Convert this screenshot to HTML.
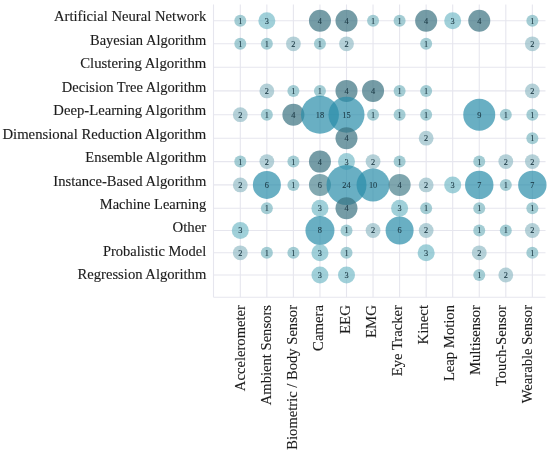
<!DOCTYPE html><html><head><meta charset="utf-8"><title>chart</title><style>html,body{margin:0;padding:0;background:#fff}svg{display:block}text{font-family:"Liberation Serif",serif}</style></head><body>
<svg width="550" height="451" viewBox="0 0 550 451">
<rect width="550" height="451" fill="#fff"/>
<g stroke="#e6e6ee" stroke-width="1.1" fill="none">
<line x1="213.5" y1="20.7" x2="545.5" y2="20.7"/>
<line x1="213.5" y1="43.8" x2="545.5" y2="43.8"/>
<line x1="213.5" y1="67.2" x2="545.5" y2="67.2"/>
<line x1="213.5" y1="90.9" x2="545.5" y2="90.9"/>
<line x1="213.5" y1="114.7" x2="545.5" y2="114.7"/>
<line x1="213.5" y1="138.2" x2="545.5" y2="138.2"/>
<line x1="213.5" y1="161.6" x2="545.5" y2="161.6"/>
<line x1="213.5" y1="184.9" x2="545.5" y2="184.9"/>
<line x1="213.5" y1="208.3" x2="545.5" y2="208.3"/>
<line x1="213.5" y1="230.5" x2="545.5" y2="230.5"/>
<line x1="213.5" y1="252.8" x2="545.5" y2="252.8"/>
<line x1="213.5" y1="275.0" x2="545.5" y2="275.0"/>
<line x1="213.5" y1="297.3" x2="545.5" y2="297.3"/>
<line x1="213.50" y1="4.4" x2="213.50" y2="297.3"/>
<line x1="240.30" y1="4.4" x2="240.30" y2="297.3"/>
<line x1="266.85" y1="4.4" x2="266.85" y2="297.3"/>
<line x1="293.40" y1="4.4" x2="293.40" y2="297.3"/>
<line x1="319.95" y1="4.4" x2="319.95" y2="297.3"/>
<line x1="346.50" y1="4.4" x2="346.50" y2="297.3"/>
<line x1="373.05" y1="4.4" x2="373.05" y2="297.3"/>
<line x1="399.60" y1="4.4" x2="399.60" y2="297.3"/>
<line x1="426.15" y1="4.4" x2="426.15" y2="297.3"/>
<line x1="452.70" y1="4.4" x2="452.70" y2="297.3"/>
<line x1="479.25" y1="4.4" x2="479.25" y2="297.3"/>
<line x1="505.80" y1="4.4" x2="505.80" y2="297.3"/>
<line x1="532.35" y1="4.4" x2="532.35" y2="297.3"/>
</g>
<g fill-opacity="0.7">
<circle cx="240.30" cy="20.7" r="6.0" fill="rgb(126,184,194)"/>
<circle cx="266.85" cy="20.7" r="8.5" fill="rgb(120,188,201)"/>
<circle cx="319.95" cy="20.7" r="11.0" fill="rgb(58,114,128)"/>
<circle cx="346.50" cy="20.7" r="11.0" fill="rgb(58,114,128)"/>
<circle cx="373.05" cy="20.7" r="6.0" fill="rgb(126,184,194)"/>
<circle cx="399.60" cy="20.7" r="6.0" fill="rgb(126,184,194)"/>
<circle cx="426.15" cy="20.7" r="11.0" fill="rgb(58,114,128)"/>
<circle cx="452.70" cy="20.7" r="8.5" fill="rgb(120,188,201)"/>
<circle cx="479.25" cy="20.7" r="11.0" fill="rgb(58,114,128)"/>
<circle cx="532.35" cy="20.7" r="6.0" fill="rgb(126,184,194)"/>
<circle cx="240.30" cy="43.8" r="6.0" fill="rgb(126,184,194)"/>
<circle cx="266.85" cy="43.8" r="6.0" fill="rgb(126,184,194)"/>
<circle cx="293.40" cy="43.8" r="7.4" fill="rgb(150,190,200)"/>
<circle cx="319.95" cy="43.8" r="6.0" fill="rgb(126,184,194)"/>
<circle cx="346.50" cy="43.8" r="7.4" fill="rgb(150,190,200)"/>
<circle cx="426.15" cy="43.8" r="6.0" fill="rgb(126,184,194)"/>
<circle cx="532.35" cy="43.8" r="7.4" fill="rgb(150,190,200)"/>
<circle cx="266.85" cy="90.9" r="7.4" fill="rgb(150,190,200)"/>
<circle cx="293.40" cy="90.9" r="6.0" fill="rgb(126,184,194)"/>
<circle cx="319.95" cy="90.9" r="6.0" fill="rgb(126,184,194)"/>
<circle cx="346.50" cy="90.9" r="11.0" fill="rgb(58,114,128)"/>
<circle cx="373.05" cy="90.9" r="11.0" fill="rgb(58,114,128)"/>
<circle cx="399.60" cy="90.9" r="6.0" fill="rgb(126,184,194)"/>
<circle cx="426.15" cy="90.9" r="6.0" fill="rgb(126,184,194)"/>
<circle cx="532.35" cy="90.9" r="7.4" fill="rgb(150,190,200)"/>
<circle cx="240.30" cy="114.7" r="7.4" fill="rgb(150,190,200)"/>
<circle cx="266.85" cy="114.7" r="6.0" fill="rgb(126,184,194)"/>
<circle cx="293.40" cy="114.7" r="11.0" fill="rgb(58,114,128)"/>
<circle cx="319.95" cy="114.7" r="19.0" fill="rgb(41,141,169)"/>
<circle cx="346.50" cy="114.7" r="18.0" fill="rgb(41,141,169)"/>
<circle cx="373.05" cy="114.7" r="6.0" fill="rgb(126,184,194)"/>
<circle cx="399.60" cy="114.7" r="6.0" fill="rgb(126,184,194)"/>
<circle cx="426.15" cy="114.7" r="6.0" fill="rgb(126,184,194)"/>
<circle cx="479.25" cy="114.7" r="16.0" fill="rgb(41,141,169)"/>
<circle cx="505.80" cy="114.7" r="6.0" fill="rgb(126,184,194)"/>
<circle cx="532.35" cy="114.7" r="6.0" fill="rgb(126,184,194)"/>
<circle cx="346.50" cy="138.2" r="11.0" fill="rgb(58,114,128)"/>
<circle cx="426.15" cy="138.2" r="7.4" fill="rgb(150,190,200)"/>
<circle cx="532.35" cy="138.2" r="6.0" fill="rgb(126,184,194)"/>
<circle cx="240.30" cy="161.6" r="6.0" fill="rgb(126,184,194)"/>
<circle cx="266.85" cy="161.6" r="7.4" fill="rgb(150,190,200)"/>
<circle cx="293.40" cy="161.6" r="6.0" fill="rgb(126,184,194)"/>
<circle cx="319.95" cy="161.6" r="11.0" fill="rgb(58,114,128)"/>
<circle cx="346.50" cy="161.6" r="8.5" fill="rgb(120,188,201)"/>
<circle cx="373.05" cy="161.6" r="7.4" fill="rgb(150,190,200)"/>
<circle cx="399.60" cy="161.6" r="6.0" fill="rgb(126,184,194)"/>
<circle cx="479.25" cy="161.6" r="6.0" fill="rgb(126,184,194)"/>
<circle cx="505.80" cy="161.6" r="7.4" fill="rgb(150,190,200)"/>
<circle cx="532.35" cy="161.6" r="7.4" fill="rgb(150,190,200)"/>
<circle cx="240.30" cy="184.9" r="7.4" fill="rgb(150,190,200)"/>
<circle cx="266.85" cy="184.9" r="14.0" fill="rgb(41,141,169)"/>
<circle cx="293.40" cy="184.9" r="6.0" fill="rgb(126,184,194)"/>
<circle cx="319.95" cy="184.9" r="11.0" fill="rgb(78,132,144)"/>
<circle cx="346.50" cy="184.9" r="20" fill="rgb(41,141,169)"/>
<circle cx="373.05" cy="184.9" r="16.5" fill="rgb(41,141,169)"/>
<circle cx="399.60" cy="184.9" r="11.0" fill="rgb(72,128,140)"/>
<circle cx="426.15" cy="184.9" r="7.4" fill="rgb(150,190,200)"/>
<circle cx="452.70" cy="184.9" r="8.5" fill="rgb(120,188,201)"/>
<circle cx="479.25" cy="184.9" r="14.2" fill="rgb(41,141,169)"/>
<circle cx="505.80" cy="184.9" r="6.0" fill="rgb(126,184,194)"/>
<circle cx="532.35" cy="184.9" r="14.2" fill="rgb(41,141,169)"/>
<circle cx="266.85" cy="208.3" r="6.0" fill="rgb(126,184,194)"/>
<circle cx="319.95" cy="208.3" r="8.5" fill="rgb(120,188,201)"/>
<circle cx="346.50" cy="208.3" r="11.0" fill="rgb(58,114,128)"/>
<circle cx="399.60" cy="208.3" r="8.5" fill="rgb(120,188,201)"/>
<circle cx="426.15" cy="208.3" r="6.0" fill="rgb(126,184,194)"/>
<circle cx="479.25" cy="208.3" r="6.0" fill="rgb(126,184,194)"/>
<circle cx="532.35" cy="208.3" r="6.0" fill="rgb(126,184,194)"/>
<circle cx="240.30" cy="230.5" r="8.5" fill="rgb(120,188,201)"/>
<circle cx="319.95" cy="230.5" r="14.5" fill="rgb(41,141,169)"/>
<circle cx="346.50" cy="230.5" r="6.0" fill="rgb(126,184,194)"/>
<circle cx="373.05" cy="230.5" r="7.4" fill="rgb(150,190,200)"/>
<circle cx="399.60" cy="230.5" r="14.0" fill="rgb(41,141,169)"/>
<circle cx="426.15" cy="230.5" r="7.4" fill="rgb(150,190,200)"/>
<circle cx="479.25" cy="230.5" r="6.0" fill="rgb(126,184,194)"/>
<circle cx="505.80" cy="230.5" r="6.0" fill="rgb(126,184,194)"/>
<circle cx="532.35" cy="230.5" r="7.4" fill="rgb(150,190,200)"/>
<circle cx="240.30" cy="252.8" r="7.4" fill="rgb(150,190,200)"/>
<circle cx="266.85" cy="252.8" r="6.0" fill="rgb(126,184,194)"/>
<circle cx="293.40" cy="252.8" r="6.0" fill="rgb(126,184,194)"/>
<circle cx="319.95" cy="252.8" r="8.5" fill="rgb(120,188,201)"/>
<circle cx="346.50" cy="252.8" r="6.0" fill="rgb(126,184,194)"/>
<circle cx="426.15" cy="252.8" r="8.5" fill="rgb(120,188,201)"/>
<circle cx="479.25" cy="252.8" r="7.4" fill="rgb(150,190,200)"/>
<circle cx="532.35" cy="252.8" r="6.0" fill="rgb(126,184,194)"/>
<circle cx="319.95" cy="275.0" r="8.5" fill="rgb(120,188,201)"/>
<circle cx="346.50" cy="275.0" r="8.5" fill="rgb(120,188,201)"/>
<circle cx="479.25" cy="275.0" r="6.0" fill="rgb(126,184,194)"/>
<circle cx="505.80" cy="275.0" r="7.4" fill="rgb(150,190,200)"/>
</g>
<g font-size="8.3" text-anchor="middle" fill="#1b3944" stroke="#1b3944" stroke-width="0.1">
<text x="240.30" y="23.6">1</text>
<text x="266.85" y="23.6">3</text>
<text x="319.95" y="23.6">4</text>
<text x="346.50" y="23.6">4</text>
<text x="373.05" y="23.6">1</text>
<text x="399.60" y="23.6">1</text>
<text x="426.15" y="23.6">4</text>
<text x="452.70" y="23.6">3</text>
<text x="479.25" y="23.6">4</text>
<text x="532.35" y="23.6">1</text>
<text x="240.30" y="46.7">1</text>
<text x="266.85" y="46.7">1</text>
<text x="293.40" y="46.7">2</text>
<text x="319.95" y="46.7">1</text>
<text x="346.50" y="46.7">2</text>
<text x="426.15" y="46.7">1</text>
<text x="532.35" y="46.7">2</text>
<text x="266.85" y="93.8">2</text>
<text x="293.40" y="93.8">1</text>
<text x="319.95" y="93.8">1</text>
<text x="346.50" y="93.8">4</text>
<text x="373.05" y="93.8">4</text>
<text x="399.60" y="93.8">1</text>
<text x="426.15" y="93.8">1</text>
<text x="532.35" y="93.8">2</text>
<text x="240.30" y="117.6">2</text>
<text x="266.85" y="117.6">1</text>
<text x="293.40" y="117.6">4</text>
<text x="319.95" y="117.6">18</text>
<text x="346.50" y="117.6">15</text>
<text x="373.05" y="117.6">1</text>
<text x="399.60" y="117.6">1</text>
<text x="426.15" y="117.6">1</text>
<text x="479.25" y="117.6">9</text>
<text x="505.80" y="117.6">1</text>
<text x="532.35" y="117.6">1</text>
<text x="346.50" y="141.1">4</text>
<text x="426.15" y="141.1">2</text>
<text x="532.35" y="141.1">1</text>
<text x="240.30" y="164.5">1</text>
<text x="266.85" y="164.5">2</text>
<text x="293.40" y="164.5">1</text>
<text x="319.95" y="164.5">4</text>
<text x="346.50" y="164.5">3</text>
<text x="373.05" y="164.5">2</text>
<text x="399.60" y="164.5">1</text>
<text x="479.25" y="164.5">1</text>
<text x="505.80" y="164.5">2</text>
<text x="532.35" y="164.5">2</text>
<text x="240.30" y="187.8">2</text>
<text x="266.85" y="187.8">6</text>
<text x="293.40" y="187.8">1</text>
<text x="319.95" y="187.8">6</text>
<text x="346.50" y="187.8">24</text>
<text x="373.05" y="187.8">10</text>
<text x="399.60" y="187.8">4</text>
<text x="426.15" y="187.8">2</text>
<text x="452.70" y="187.8">3</text>
<text x="479.25" y="187.8">7</text>
<text x="505.80" y="187.8">1</text>
<text x="532.35" y="187.8">7</text>
<text x="266.85" y="211.2">1</text>
<text x="319.95" y="211.2">3</text>
<text x="346.50" y="211.2">4</text>
<text x="399.60" y="211.2">3</text>
<text x="426.15" y="211.2">1</text>
<text x="479.25" y="211.2">1</text>
<text x="532.35" y="211.2">1</text>
<text x="240.30" y="233.4">3</text>
<text x="319.95" y="233.4">8</text>
<text x="346.50" y="233.4">1</text>
<text x="373.05" y="233.4">2</text>
<text x="399.60" y="233.4">6</text>
<text x="426.15" y="233.4">2</text>
<text x="479.25" y="233.4">1</text>
<text x="505.80" y="233.4">1</text>
<text x="532.35" y="233.4">2</text>
<text x="240.30" y="255.7">2</text>
<text x="266.85" y="255.7">1</text>
<text x="293.40" y="255.7">1</text>
<text x="319.95" y="255.7">3</text>
<text x="346.50" y="255.7">1</text>
<text x="426.15" y="255.7">3</text>
<text x="479.25" y="255.7">2</text>
<text x="532.35" y="255.7">1</text>
<text x="319.95" y="277.9">3</text>
<text x="346.50" y="277.9">3</text>
<text x="479.25" y="277.9">1</text>
<text x="505.80" y="277.9">2</text>
</g>
<g font-size="13.8" fill="#1c1c1c" stroke="#1c1c1c" stroke-width="0.12">
<text x="54.0" y="21.3" textLength="152.3" lengthAdjust="spacingAndGlyphs">Artificial Neural Network</text>
<text x="90.0" y="44.8" textLength="116.3" lengthAdjust="spacingAndGlyphs">Bayesian Algorithm</text>
<text x="80.2" y="68.2" textLength="126.1" lengthAdjust="spacingAndGlyphs">Clustering Algorithm</text>
<text x="61.8" y="91.6" textLength="144.5" lengthAdjust="spacingAndGlyphs">Decision Tree Algorithm</text>
<text x="53.3" y="115.1" textLength="153.0" lengthAdjust="spacingAndGlyphs">Deep-Learning Algorithm</text>
<text x="2.4" y="138.6" textLength="203.9" lengthAdjust="spacingAndGlyphs">Dimensional Reduction Algorithm</text>
<text x="85.3" y="162.0" textLength="121.0" lengthAdjust="spacingAndGlyphs">Ensemble Algorithm</text>
<text x="53.3" y="185.5" textLength="153.0" lengthAdjust="spacingAndGlyphs">Instance-Based Algorithm</text>
<text x="99.8" y="208.9" textLength="106.5" lengthAdjust="spacingAndGlyphs">Machine Learning</text>
<text x="172.5" y="232.3" textLength="33.8" lengthAdjust="spacingAndGlyphs">Other</text>
<text x="102.9" y="255.8" textLength="103.4" lengthAdjust="spacingAndGlyphs">Probalistic Model</text>
<text x="77.5" y="279.2" textLength="128.8" lengthAdjust="spacingAndGlyphs">Regression Algorithm</text>
<text transform="translate(245.00,391.2) rotate(-90)" textLength="86.2" lengthAdjust="spacingAndGlyphs">Accelerometer</text>
<text transform="translate(271.13,405.3) rotate(-90)" textLength="100.3" lengthAdjust="spacingAndGlyphs">Ambient Sensors</text>
<text transform="translate(297.26,449.7) rotate(-90)" textLength="144.7" lengthAdjust="spacingAndGlyphs">Biometric / Body Sensor</text>
<text transform="translate(323.39,350.9) rotate(-90)" textLength="45.9" lengthAdjust="spacingAndGlyphs">Camera</text>
<text transform="translate(349.52,334.0) rotate(-90)" textLength="29.0" lengthAdjust="spacingAndGlyphs">EEG</text>
<text transform="translate(375.65,338.0) rotate(-90)" textLength="33.0" lengthAdjust="spacingAndGlyphs">EMG</text>
<text transform="translate(401.78,376.3) rotate(-90)" textLength="71.3" lengthAdjust="spacingAndGlyphs">Eye Tracker</text>
<text transform="translate(427.91,344.5) rotate(-90)" textLength="39.5" lengthAdjust="spacingAndGlyphs">Kinect</text>
<text transform="translate(454.04,381.1) rotate(-90)" textLength="76.1" lengthAdjust="spacingAndGlyphs">Leap Motion</text>
<text transform="translate(480.17,375.1) rotate(-90)" textLength="70.1" lengthAdjust="spacingAndGlyphs">Multisensor</text>
<text transform="translate(506.30,386.2) rotate(-90)" textLength="81.2" lengthAdjust="spacingAndGlyphs">Touch-Sensor</text>
<text transform="translate(532.43,403.3) rotate(-90)" textLength="98.3" lengthAdjust="spacingAndGlyphs">Wearable Sensor</text>
</g>
</svg></body></html>
